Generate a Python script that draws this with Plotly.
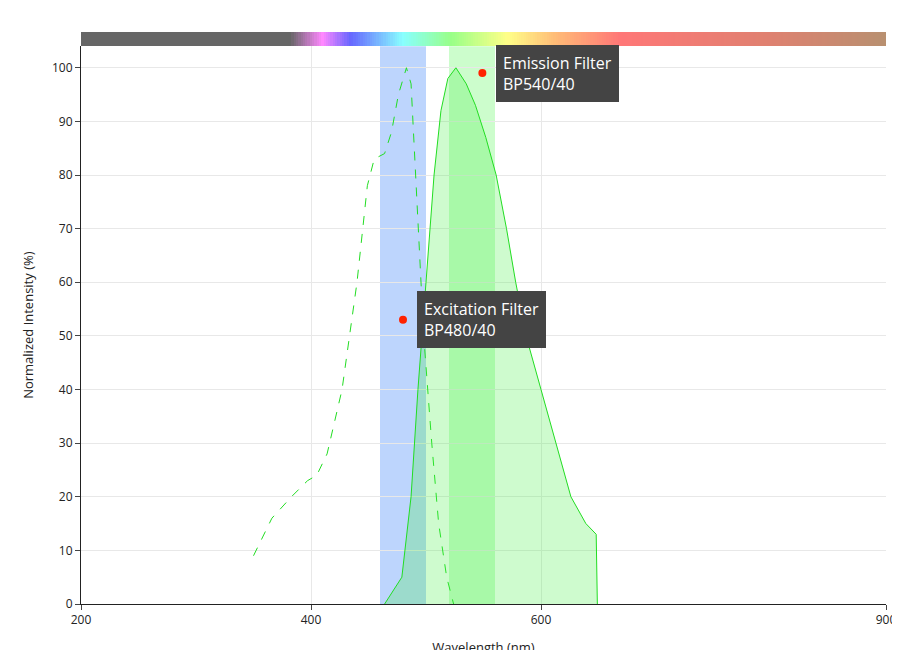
import plotly.graph_objects as go

ex_x = [350,366,383,397,405,414,427,440,449,455,464,470,476,483,487,491,498,505,511,518,524]
ex_y = [9,16,20,23,24,28,40,60,78,83,84,88,95,100,97,80,50,30,15,5,0]
em_x = [464,479,487,493,500,507,513,519,526,535,543,552,561,570,578,587,600,613,626,639,648,649]
em_y = [0,5,20,40,60,80,92,98,100,97,93,87,80,70,60,50,40,30,20,15,13,0]
ex_band = [460, 500]
em_band = [520, 560]
spec_x = list(range(200, 901, 2))

fig = go.Figure()
fig.add_vrect(x0=ex_band[0], x1=ex_band[1], fillcolor="rgba(90,150,250,0.4)", line_width=0, layer="below")
fig.add_vrect(x0=em_band[0], x1=em_band[1], fillcolor="rgba(110,250,110,0.35)", line_width=0, layer="below")
fig.add_trace(go.Scatter(x=ex_x, y=ex_y, mode="lines", line=dict(color="#22dd22", width=1, dash="dash"), hoverinfo="skip"))
fig.add_trace(go.Scatter(x=em_x, y=em_y, mode="lines", line=dict(color="#22dd22", width=1), fill="tozeroy", fillcolor="rgba(60,240,60,0.25)", hoverinfo="skip"))
fig.add_trace(go.Scatter(x=[480, 549], y=[53, 99], mode="markers", marker=dict(color="#ff2200", size=8), hoverinfo="skip"))

cs = [[0,"#666666"],[0.26,"#666666"],[0.3,"#ff88ff"],[0.335,"#6666ff"],[0.4,"#88ffff"],[0.46,"#99ff88"],[0.53,"#ffff88"],[0.59,"#ffbb77"],[0.67,"#ff7777"],[0.85,"#e08070"],[1,"#b89070"]]
fig.add_trace(go.Heatmap(x=spec_x, y=[0], z=[spec_x], colorscale=cs, showscale=False, yaxis="y2", hoverinfo="skip"))

for x, y, t in [(480, 53, "Excitation Filter<br>BP480/40"), (549, 99, "Emission Filter<br>BP540/40")]:
    fig.add_annotation(x=x, y=y, text=t, showarrow=False, xanchor="left", xshift=14, align="left",
                       bgcolor="#444444", bordercolor="#444444", borderpad=6,
                       font=dict(color="white", size=16, family="Open Sans"))

fig.update_layout(
    width=900, height=650, showlegend=False, plot_bgcolor="white", paper_bgcolor="white",
    margin=dict(l=73, r=22, t=24, b=54), font=dict(family="Open Sans", size=12, color="#222"),
    xaxis=dict(range=[200, 900], tickvals=[200, 400, 600, 900], title=dict(text="Wavelength (nm)", font=dict(size=13)),
               automargin=False, showgrid=True, gridcolor="#e8e8e8", showline=True, linecolor="#222",
               ticks="outside", zeroline=False),
    yaxis=dict(range=[0, 104], domain=[0, 0.975], tickvals=list(range(0, 101, 10)), automargin=False,
               title=dict(text="Normalized Intensity (%)", font=dict(size=13)),
               gridcolor="#e8e8e8", showline=True, linecolor="#222", ticks="outside", zeroline=False),
    yaxis2=dict(domain=[0.975, 1], showticklabels=False, showgrid=False, zeroline=False, anchor="x", automargin=False),
)
fig.write_html("out.html")
